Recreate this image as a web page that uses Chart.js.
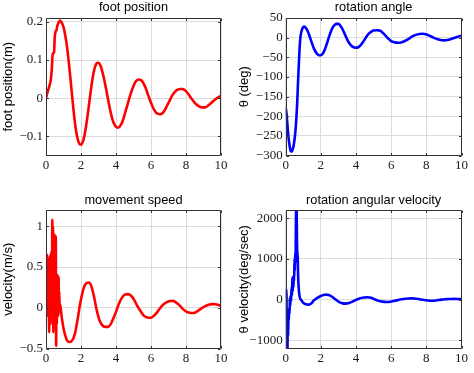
<!DOCTYPE html>
<html><head><meta charset="utf-8">
<script src="https://cdn.jsdelivr.net/npm/chart.js@4/dist/chart.umd.min.js"></script>
<style>
html,body{margin:0;padding:0;background:#fff;}
#wrap{position:relative;width:474px;height:373px;overflow:hidden;}
canvas{position:absolute;}
</style></head><body>
<div id="wrap">
<canvas id="c1" width="237" height="185" style="left:0;top:0"></canvas>
<canvas id="c2" width="237" height="185" style="left:237px;top:0"></canvas>
<canvas id="c3" width="237" height="188" style="left:0;top:185px"></canvas>
<canvas id="c4" width="237" height="188" style="left:237px;top:185px"></canvas>
</div>
<script>
// ---- data ----
const timeTicks = [0, 2, 4, 6, 8, 10];

const footTicks = [-0.1, 0, 0.1, 0.2];
const footT = [0,0.1,0.2,0.28,0.33,0.36,0.38,0.42,0.46,0.5,0.55,0.6,0.65,0.72,0.8,0.9,1.0,1.1,1.2,1.3,1.4,1.5,1.6,1.7,1.8,1.9,2.0,2.1,2.2,2.3,2.4,2.5,2.6,2.7,2.8,2.9,3.0,3.1,3.2,3.3,3.4,3.5,3.6,3.7,3.8,3.9,4.0,4.1,4.2,4.3,4.4,4.5,4.6,4.7,4.8,4.9,5.0,5.1,5.2,5.3,5.4,5.5,5.6,5.7,5.8,5.9,6.0,6.1,6.2,6.3,6.4,6.5,6.6,6.7,6.8,6.9,7.0,7.1,7.2,7.3,7.4,7.5,7.7,7.8,7.9,8.1,8.3,8.5,8.7,8.9,9.1,9.3,9.5,9.7,9.9,10];
const footPos = [0,0.018,0.033,0.05,0.076,0.1,0.115,0.118,0.12,0.16,0.175,0.178,0.19,0.198,0.203,0.198,0.186,0.165,0.135,0.095,0.05,0.003,-0.043,-0.08,-0.105,-0.119,-0.122,-0.115,-0.097,-0.07,-0.037,-0.002,0.033,0.062,0.082,0.092,0.093,0.087,0.073,0.054,0.032,0.008,-0.016,-0.038,-0.056,-0.068,-0.075,-0.077,-0.075,-0.068,-0.057,-0.042,-0.026,-0.01,0.006,0.02,0.032,0.042,0.047,0.049,0.048,0.044,0.036,0.026,0.013,0.0,-0.012,-0.023,-0.032,-0.038,-0.041,-0.042,-0.041,-0.037,-0.03,-0.021,-0.012,-0.003,0.006,0.013,0.018,0.022,0.024,0.024,0.022,0.013,0.0,-0.012,-0.02,-0.024,-0.024,-0.018,-0.01,-0.002,0.004,0.005];

const angleTicks = [-300, -250, -200, -150, -100, -50, 0, 50];
const angleT = [0,0.05,0.1,0.15,0.2,0.25,0.3,0.35,0.4,0.45,0.5,0.55,0.6,0.65,0.7,0.75,0.8,0.85,0.9,0.95,1.0,1.05,1.1,1.2,1.3,1.4,1.5,1.6,1.7,1.8,1.9,2.0,2.1,2.2,2.3,2.4,2.5,2.6,2.7,2.8,2.9,3.0,3.1,3.2,3.3,3.4,3.5,3.6,3.7,3.8,3.9,4.0,4.1,4.2,4.3,4.4,4.5,4.6,4.7,4.8,4.9,5.0,5.2,5.3,5.4,5.5,5.6,5.7,5.8,5.9,6.0,6.2,6.4,6.5,6.6,6.8,7.0,7.2,7.4,7.6,7.8,8.0,8.2,8.4,8.6,8.8,9.0,9.2,9.4,9.6,9.8,10];
const angleDeg = [-178,-195,-222,-250,-268,-283,-290,-290,-284,-275,-260,-240,-210,-170,-115,-65,-20,5,16,23,27,28,27,21,11,-2,-15,-27,-36,-42,-45,-45,-41,-33,-21,-7,7,19,28,33,35,35,31,24,15,5,-5,-13,-19,-23,-25,-25.5,-25,-22,-17,-11,-4,3,9,13,16,18,19,18.5,17,13,9,4,-1,-5,-9,-12,-13,-13,-12,-8,-3,3,7,9.5,10,8,4.5,0,-3.5,-6,-7,-6,-3.5,-0.5,2.5,5];

const speedTicks = [-0.5, 0, 0.5, 1];
const speedT = [0,0.02,0.04,0.06,0.08,0.1,0.12,0.14,0.16,0.18,0.2,0.22,0.24,0.26,0.28,0.3,0.32,0.34,0.36,0.38,0.4,0.42,0.44,0.46,0.48,0.5,0.52,0.54,0.56,0.58,0.6,0.62,0.64,0.66,0.68,0.7,0.72,0.74,0.76,0.78,0.8,0.9,1.0,1.1,1.2,1.35,1.5,1.65,1.8,1.95,2.1,2.25,2.45,2.6,2.75,2.9,3.05,3.2,3.4,3.55,3.7,3.85,4.0,4.15,4.3,4.5,4.7,4.9,5.05,5.2,5.4,5.6,5.8,5.95,6.1,6.3,6.5,6.7,6.9,7.1,7.25,7.4,7.6,7.8,8.0,8.2,8.35,8.5,8.7,8.9,9.1,9.3,9.5,9.7,9.85,10];
const speedVal = [0,0.6,-0.1,0.65,-0.05,0.62,-0.1,0.5,0.05,-0.3,0.55,0.0,0.65,-0.2,0.6,0.1,0.7,-0.05,1.08,0.2,1.0,-0.3,0.6,0.1,0.9,-0.1,0.55,0.0,0.88,-0.47,0.4,-0.2,0.3,0.05,0.4,-0.1,0.38,0.0,0.2,-0.05,0.05,-0.12,-0.25,-0.34,-0.4,-0.42,-0.4,-0.32,-0.15,0.05,0.2,0.29,0.31,0.26,0.13,-0.03,-0.15,-0.21,-0.235,-0.235,-0.2,-0.13,-0.05,0.04,0.11,0.16,0.168,0.14,0.09,0.03,-0.04,-0.1,-0.12,-0.123,-0.11,-0.07,-0.01,0.04,0.07,0.083,0.085,0.07,0.035,-0.01,-0.045,-0.062,-0.064,-0.06,-0.035,-0.005,0.02,0.038,0.045,0.043,0.035,0.025];

const omegaTicks = [-1000, 0, 1000, 2000];
const omegaT = [0,0.02,0.04,0.06,0.08,0.1,0.12,0.14,0.16,0.18,0.2,0.22,0.24,0.26,0.28,0.3,0.32,0.34,0.36,0.38,0.4,0.42,0.44,0.46,0.48,0.5,0.52,0.54,0.56,0.58,0.6,0.62,0.64,0.66,0.68,0.7,0.72,0.74,0.76,0.8,0.9,1.0,1.15,1.3,1.45,1.6,1.8,2.0,2.15,2.3,2.45,2.65,2.85,3.05,3.25,3.4,3.6,3.8,4.0,4.2,4.45,4.65,4.85,5.05,5.25,5.5,5.75,5.95,6.2,6.45,6.7,6.95,7.2,7.45,7.7,7.95,8.2,8.4,8.6,8.85,9.1,9.35,9.6,9.8,10];
const omegaVal = [0,150,250,-600,-1300,-1250,-400,-900,-300,-500,-200,-350,50,-150,100,-50,150,300,100,550,200,560,300,600,450,1000,700,1150,900,1800,2400,2300,1500,1150,1180,700,420,300,180,60,-20,-80,-115,-123,-95,-20,45,90,115,123,115,66,0,-60,-92,-98,-85,-48,-5,30,52,57,45,10,-25,-50,-57,-52,-30,-5,15,27,30,22,3,-17,-27,-27,-15,0,10,17,18,15,10];

// ---- helpers ----
const toPts = (xs, ys) => xs.map((x, i) => ({x: x, y: ys[i]}));
const fmt = v => { const r = Math.round(v * 1e6) / 1e6; return (r < 0 ? '\u2212' : '') + String(Math.abs(r)); };
const TICK_FONT = {family: '"Liberation Serif", serif', size: 13};
const SANS = '"Liberation Sans", Arial, sans-serif';
const GRID = '#dcdcdc';
const FRAME = '#333333';

const framePlugin = {
  id: 'frame',
  afterDraw(chart) {
    const {ctx, chartArea: a, scales} = chart;
    ctx.save();
    ctx.strokeStyle = FRAME;
    ctx.lineWidth = 1;
    const L = Math.round(a.left) + 0.5, R = Math.round(a.right) - 0.5;
    const T = Math.round(a.top) + 0.5, B = Math.round(a.bottom) - 0.5;
    ctx.beginPath();
    ctx.rect(L, T, R - L, B - T);
    ctx.stroke();
    ctx.beginPath();
    const tl = 2.5;
    scales.x.ticks.forEach(t => {
      const px = Math.round(scales.x.getPixelForValue(t.value)) + 0.5;
      ctx.moveTo(px, B); ctx.lineTo(px, B - tl);
      ctx.moveTo(px, T); ctx.lineTo(px, T + tl);
    });
    scales.y.ticks.forEach(t => {
      const py = Math.round(scales.y.getPixelForValue(t.value)) + 0.5;
      ctx.moveTo(L, py); ctx.lineTo(L + tl, py);
      ctx.moveTo(R, py); ctx.lineTo(R - tl, py);
    });
    ctx.stroke();
    ctx.restore();
  }
};

function makeChart(id, cfg) {
  const ca = cfg.area; // desired chart area in canvas coords
  const canvas = document.getElementById(id);
  const W = canvas.width, H = canvas.height;
  return new Chart(canvas, {
    type: 'line',
    data: {datasets: [{
      data: toPts(cfg.xs, cfg.ys),
      borderColor: cfg.color,
      borderWidth: 2.6,
      pointRadius: 0,
      fill: false,
      cubicInterpolationMode: 'monotone',
      borderJoinStyle: 'round'
    }]},
    options: {
      responsive: false,
      animation: false,
      devicePixelRatio: 1,
      layout: {padding: {left: 0, top: 0, bottom: 0, right: W - ca.right}},
      plugins: {
        legend: {display: false},
        tooltip: {enabled: false},
        title: {
          display: true, text: cfg.title, fullSize: false,
          color: '#000',
          font: {family: SANS, size: 12.8, weight: 'normal', lineHeight: 1.2},
          padding: {top: cfg.titleTop, bottom: ca.top - cfg.titleTop - 15.36}
        }
      },
      scales: {
        x: {
          type: 'linear', min: 0, max: 10,
          afterBuildTicks: s => { s.ticks = timeTicks.map(v => ({value: v})); },
          afterFit: s => { s.height = H - ca.bottom; },
          ticks: {font: TICK_FONT, color: '#1a1a1a', padding: 2, maxRotation: 0, callback: v => fmt(v)},
          grid: {color: GRID, lineWidth: 1, drawTicks: false},
          border: {display: false}
        },
        y: {
          type: 'linear', min: cfg.ymin, max: cfg.ymax,
          afterBuildTicks: s => { s.ticks = cfg.yticks.map(v => ({value: v})); },
          afterFit: s => { s.width = ca.left; },
          ticks: {font: TICK_FONT, color: '#1a1a1a', padding: 3, callback: v => fmt(v)},
          grid: {color: GRID, lineWidth: 1, drawTicks: false},
          border: {display: false},
          title: {
            display: true, text: cfg.ylabel, color: '#000',
            font: {family: SANS, size: 13, lineHeight: 1.2},
            padding: {top: cfg.ylabelPad, bottom: 0}
          }
        }
      }
    },
    plugins: [framePlugin]
  });
}

makeChart('c1', {
  xs: footT, ys: footPos, color: '#ff0000', title: 'foot position', ylabel: 'foot position(m)',
  ymin: -0.15, ymax: 0.21, yticks: footTicks,
  area: {left: 46, right: 221, top: 18, bottom: 155.5}, titleTop: 0, ylabelPad: 0.5
});
makeChart('c2', {
  xs: angleT, ys: angleDeg, color: '#0000ff', title: 'rotation angle', ylabel: '\u03B8 (deg)',
  ymin: -300, ymax: 50, yticks: angleTicks,
  area: {left: 48.7, right: 224.5, top: 18, bottom: 155.5}, titleTop: 0, ylabelPad: 0
});
makeChart('c3', {
  xs: speedT, ys: speedVal, color: '#ff0000', title: 'movement speed', ylabel: 'velocity(m/s)',
  ymin: -0.5, ymax: 1.2, yticks: speedTicks,
  area: {left: 46, right: 221, top: 25, bottom: 163.5}, titleTop: 7.5, ylabelPad: 0.5
});
makeChart('c4', {
  xs: omegaT, ys: omegaVal, color: '#0000ff', title: 'rotation angular velocity', ylabel: '\u03B8 velocity(deg/sec)',
  ymin: -1200, ymax: 2200, yticks: omegaTicks,
  area: {left: 48.7, right: 224.5, top: 25, bottom: 163.5}, titleTop: 7.5, ylabelPad: 0
});
</script>
</body></html>
